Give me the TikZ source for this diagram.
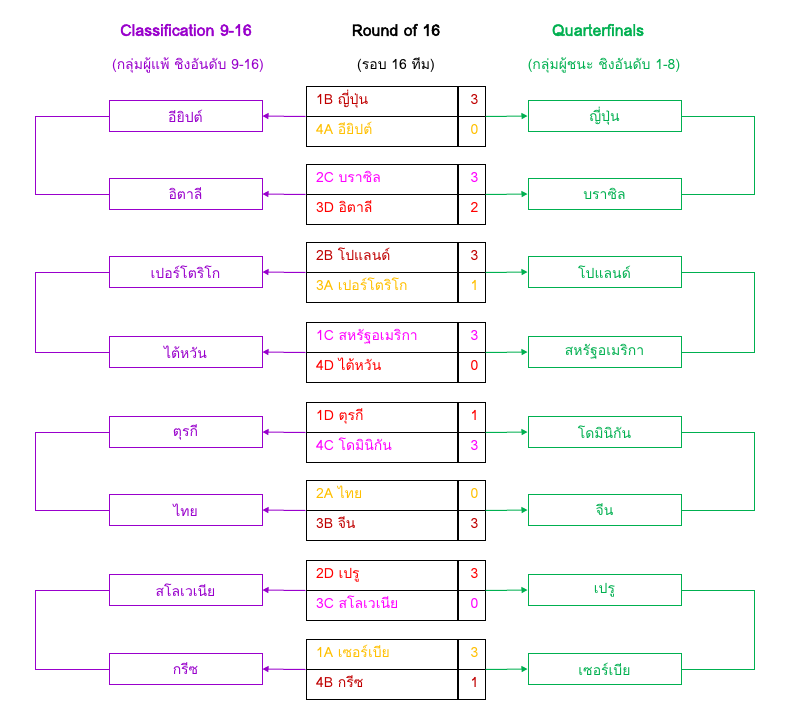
\documentclass[tikz,border=0pt]{standalone}
\usepackage{fontspec}
\setmainfont[Script=Thai]{Loma}
\newfontfamily\headfont[Script=Thai, FakeBold=2.5]{Loma}
\usetikzlibrary{arrows.meta, positioning}

\definecolor{lossc}{HTML}{9900CC}
\definecolor{winc}{HTML}{00B050}
\definecolor{grpA}{HTML}{FFC000}
\definecolor{grpB}{HTML}{C00000}
\definecolor{grpC}{HTML}{FF00FF}
\definecolor{grpD}{HTML}{FF0000}

\begin{document}
\begin{tikzpicture}[
    x=0.75pt, y=-0.75pt,
    team/.style={
        rectangle, draw=black, line width=0.75pt,
        minimum height=22.5pt, text width=98.25pt, inner xsep=7.5pt,
        text height=8pt, text depth=2.5pt,
        font=\fontsize{10.5}{12}\selectfont, align=left,
    },
    score/.style={
        rectangle, draw=black, line width=0.75pt,
        minimum height=22.5pt, text width=10.25pt, inner xsep=5pt,
        text height=8pt, text depth=2.5pt,
        font=\fontsize{10.5}{12}\selectfont, align=right,
    },
    classbox/.style={
        rectangle, draw=lossc, text=lossc, line width=0.75pt,
        minimum height=23.25pt, minimum width=114.75pt,
        font=\fontsize{10.5}{12}\selectfont,
    },
    qfbox/.style={
        rectangle, draw=winc, text=winc, line width=0.75pt,
        minimum height=23.25pt, minimum width=114.75pt,
        font=\fontsize{10.5}{12}\selectfont,
    },
    lossarr/.style={-{Triangle[length=4.5pt, width=4.5pt]}, line width=0.75pt, lossc},
    winarr/.style={-{Triangle[length=4.5pt, width=4.5pt]}, line width=0.75pt, winc},
    lossline/.style={line width=0.75pt, lossc},
    winline/.style={line width=0.75pt, winc},
    head/.style={font=\headfont\fontsize{12}{14}\selectfont},
    subhead/.style={font=\fontsize{10.5}{12}\selectfont},
]
\useasboundingbox[fill=white] (0,0) rectangle (786,721);

% === HEADINGS ===
\node[head, text=lossc] (hclass) at (186,30) {Classification 9-16};
\node[head] (hround) at (396,30) {Round of 16};
\node[head, text=winc] (hqf) at (598,30) {Quarterfinals};
\node[subhead, text=lossc] (sclass) at (188,65) {(กลุ่มผู้แพ้ ชิงอันดับ 9-16)};
\node[subhead] (sround) at (396,65) {(รอบ 16 ทีม)};
\node[subhead, text=winc] (sqf) at (604,65) {(กลุ่มผู้ชนะ ชิงอันดับ 1-8)};

% === ROUND OF 16: team cells ===
\node[team, text=grpB] (r1a) at (381.5,101) {1B ญี่ปุ่น};
\node[team, text=grpA] (r1b) at (381.5,131) {4A อียิปต์};
\node[team, text=grpC] (r2a) at (381.5,179) {2C บราซิล};
\node[team, text=grpD] (r2b) at (381.5,209) {3D อิตาลี};
\node[team, text=grpB] (r3a) at (381.5,257) {2B โปแลนด์};
\node[team, text=grpA] (r3b) at (381.5,287) {3A เปอร์โตริโก};
\node[team, text=grpC] (r4a) at (381.5,337) {1C สหรัฐอเมริกา};
\node[team, text=grpD] (r4b) at (381.5,367) {4D ไต้หวัน};
\node[team, text=grpD] (r5a) at (381.5,417) {1D ตุรกี};
\node[team, text=grpC] (r5b) at (381.5,447) {4C โดมินิกัน};
\node[team, text=grpA] (r6a) at (381.5,495) {2A ไทย};
\node[team, text=grpB] (r6b) at (381.5,525) {3B จีน};
\node[team, text=grpD] (r7a) at (381.5,575) {2D เปรู};
\node[team, text=grpC] (r7b) at (381.5,605) {3C สโลเวเนีย};
\node[team, text=grpA] (r8a) at (381.5,654) {1A เซอร์เบีย};
\node[team, text=grpB] (r8b) at (381.5,684) {4B กรีซ};

% score cells
\node[score, text=grpB, right=0pt of r1a] (p1a) {3};
\node[score, text=grpA, right=0pt of r1b] (p1b) {0};
\node[score, text=grpC, right=0pt of r2a] (p2a) {3};
\node[score, text=grpD, right=0pt of r2b] (p2b) {2};
\node[score, text=grpB, right=0pt of r3a] (p3a) {3};
\node[score, text=grpA, right=0pt of r3b] (p3b) {1};
\node[score, text=grpC, right=0pt of r4a] (p4a) {3};
\node[score, text=grpD, right=0pt of r4b] (p4b) {0};
\node[score, text=grpD, right=0pt of r5a] (p5a) {1};
\node[score, text=grpC, right=0pt of r5b] (p5b) {3};
\node[score, text=grpA, right=0pt of r6a] (p6a) {0};
\node[score, text=grpB, right=0pt of r6b] (p6b) {3};
\node[score, text=grpD, right=0pt of r7a] (p7a) {3};
\node[score, text=grpC, right=0pt of r7b] (p7b) {0};
\node[score, text=grpA, right=0pt of r8a] (p8a) {3};
\node[score, text=grpB, right=0pt of r8b] (p8b) {1};

% === CLASSIFICATION 9-16 ===
\node[classbox] (lo1) at (185.5,116) {อียิปต์};
\node[classbox] (lo2) at (185.5,194) {อิตาลี};
\node[classbox] (lo3) at (185.5,272) {เปอร์โตริโก};
\node[classbox] (lo4) at (185.5,352) {ไต้หวัน};
\node[classbox] (lo5) at (185.5,432) {ตุรกี};
\node[classbox] (lo6) at (185.5,510) {ไทย};
\node[classbox] (lo7) at (185.5,590) {สโลเวเนีย};
\node[classbox] (lo8) at (185.5,669) {กรีซ};

% === QUARTERFINALS ===
\node[qfbox] (qf1) at (604.5,116) {ญี่ปุ่น};
\node[qfbox] (qf2) at (604.5,194) {บราซิล};
\node[qfbox] (qf3) at (604.5,272) {โปแลนด์};
\node[qfbox] (qf4) at (604.5,352) {สหรัฐอเมริกา};
\node[qfbox] (qf5) at (604.5,432) {โดมินิกัน};
\node[qfbox] (qf6) at (604.5,510) {จีน};
\node[qfbox] (qf7) at (604.5,590) {เปรู};
\node[qfbox] (qf8) at (604.5,669) {เซอร์เบีย};

% Arrows to the losers' side
\draw[lossarr] (r1a.south west) -- (lo1.east);
\draw[lossarr] (r2a.south west) -- (lo2.east);
\draw[lossarr] (r3a.south west) -- (lo3.east);
\draw[lossarr] (r4a.south west) -- (lo4.east);
\draw[lossarr] (r5a.south west) -- (lo5.east);
\draw[lossarr] (r6a.south west) -- (lo6.east);
\draw[lossarr] (r7a.south west) -- (lo7.east);
\draw[lossarr] (r8a.south west) -- (lo8.east);

% Arrows to the winners' side
\draw[winarr] (p1a.south east) -- (qf1.west);
\draw[winarr] (p2a.south east) -- (qf2.west);
\draw[winarr] (p3a.south east) -- (qf3.west);
\draw[winarr] (p4a.south east) -- (qf4.west);
\draw[winarr] (p5a.south east) -- (qf5.west);
\draw[winarr] (p6a.south east) -- (qf6.west);
\draw[winarr] (p7a.south east) -- (qf7.west);
\draw[winarr] (p8a.south east) -- (qf8.west);

% Brackets pairing the next matches
\draw[lossline] (lo1.west) -- ++(-73,0) |- (lo2.west);
\draw[lossline] (lo3.west) -- ++(-73,0) |- (lo4.west);
\draw[lossline] (lo5.west) -- ++(-73,0) |- (lo6.west);
\draw[lossline] (lo7.west) -- ++(-73,0) |- (lo8.west);
\draw[winline] (qf1.east) -- ++(73,0) |- (qf2.east);
\draw[winline] (qf3.east) -- ++(73,0) |- (qf4.east);
\draw[winline] (qf5.east) -- ++(73,0) |- (qf6.east);
\draw[winline] (qf7.east) -- ++(73,0) |- (qf8.east);

\end{tikzpicture}
\end{document}
